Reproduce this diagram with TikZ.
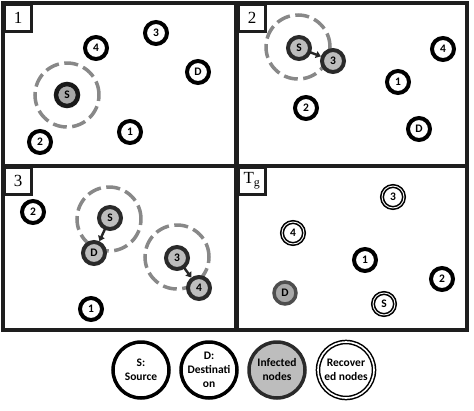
\documentclass[tikz,border=0pt]{standalone}
\usepackage{fontspec}
\setmainfont{Liberation Serif}
\newfontfamily\nodefont{Carlito}
\usetikzlibrary{arrows.meta}
\definecolor{framec}{HTML}{1E1E1E}
\definecolor{zonec}{HTML}{888888}
\definecolor{infill}{HTML}{BDBDBD}
\definecolor{indraw}{HTML}{2A2A2A}
\definecolor{dfill}{HTML}{A9A9A9}
\definecolor{ddraw}{HTML}{4E4E4E}
\tikzset{
  panel/.style={draw=framec, line width=3.5pt},
  lbl/.style={draw=framec, line width=3pt, fill=white, minimum size=27pt, inner sep=0pt, anchor=north west, font=\fontsize{17}{17}\selectfont},
  nd/.style={circle, draw=black, line width=4pt, fill=white, minimum size=22pt, inner sep=0pt, font=\nodefont\bfseries\fontsize{11.5}{11.5}\selectfont},
  inf/.style={nd, draw=indraw, fill=infill},
  infdark/.style={nd, draw=black!90, fill=dfill, line width=4.5pt},
  dinf/.style={nd, draw=ddraw, fill=dfill, line width=3.5pt},
  rec/.style={nd, draw=black, double=white, double distance=0.9pt, line width=1.6pt},
  zone/.style={draw=zonec, line width=3.5pt, dash pattern=on 14pt off 5.5pt},
  arr/.style={draw=black!85, line width=2.4pt, -{Triangle[length=5pt,width=7pt]}, shorten <=-1pt},
  leg/.style={circle, draw=black, line width=3.5pt, fill=white, minimum size=56pt, inner sep=0pt, align=center, font=\nodefont\bfseries\fontsize{11.5}{14}\selectfont},
}
\begin{document}
\begin{tikzpicture}[x=1pt,y=-1pt]
\useasboundingbox (0,0) rectangle (474,410);
\fill[white] (0,0) rectangle (474,410);

% panels
\draw[panel] (3,3) rectangle (236,166);
\draw[panel] (237,3) rectangle (467,166);
\draw[panel] (3,166) rectangle (236,330);
\draw[panel] (237,166) rectangle (467,330);

% panel labels
\node[lbl] (l1) at (3,3) {1};
\node[lbl] (l2) at (237,3) {2};
\node[lbl] (l3) at (3,166) {3};
\node[lbl] (l4) at (237,166) {T\textsubscript{g}};

% zones (behind nodes)
\coordinate (z1) at (67,95);
\coordinate (z2) at (298,47);
\coordinate (z3a) at (109,219);
\coordinate (z3b) at (177,257);
\draw[zone] (z1) circle (32pt);
\draw[zone] (z2) circle (32pt);
\draw[zone] (z3a) circle (32pt);
\draw[zone] (z3b) circle (32pt);

% panel 1
\node[nd] (a4) at (96,48) {4};
\node[nd] (a3) at (156,33) {3};
\node[nd] (ad) at (198,72) {D};
\node[infdark] (as) at (67,95) {S};
\node[nd] (a1) at (130,132) {1};
\node[nd] (a2) at (40,142) {2};

% panel 2
\node[inf] (bs) at (299,48) {S};
\node[inf] (b3) at (333,61) {3};
\node[nd] (b4) at (443,49) {4};
\node[nd] (b1) at (398,82) {1};
\node[nd] (b2) at (306,108) {2};
\node[nd] (bd) at (419,129) {D};
\draw[arr] (bs) -- (b3);

% panel 3
\node[nd] (c2) at (33,212) {2};
\node[inf] (cs) at (110,218) {S};
\node[inf] (cd) at (94,253) {D};
\node[inf] (c3) at (177,258) {3};
\node[inf] (c4) at (199,288) {4};
\node[nd] (c1) at (91,309) {1};
\draw[arr] (cs) -- (cd);
\draw[arr] (c3) -- (c4);

% panel 4
\node[rec] (d3) at (393,197) {3};
\node[rec] (d4) at (293,233) {4};
\node[nd] (d1) at (365,260) {1};
\node[nd] (d2) at (442,279) {2};
\node[dinf] (dd) at (285,293) {D};
\node[rec] (ds) at (384,304) {S};

% legend
\node[leg] (k1) at (141,370) {S:\\Source};
\node[leg] (k2) at (209,370) {D:\\Destinati\\on};
\node[leg, draw=indraw, fill=infill] (k3) at (277,370) {Infected\\nodes};
\node[leg, double=white, double distance=1.6pt, line width=1.5pt] (k4) at (346,370) {Recover\\ed nodes};
\end{tikzpicture}
\end{document}
